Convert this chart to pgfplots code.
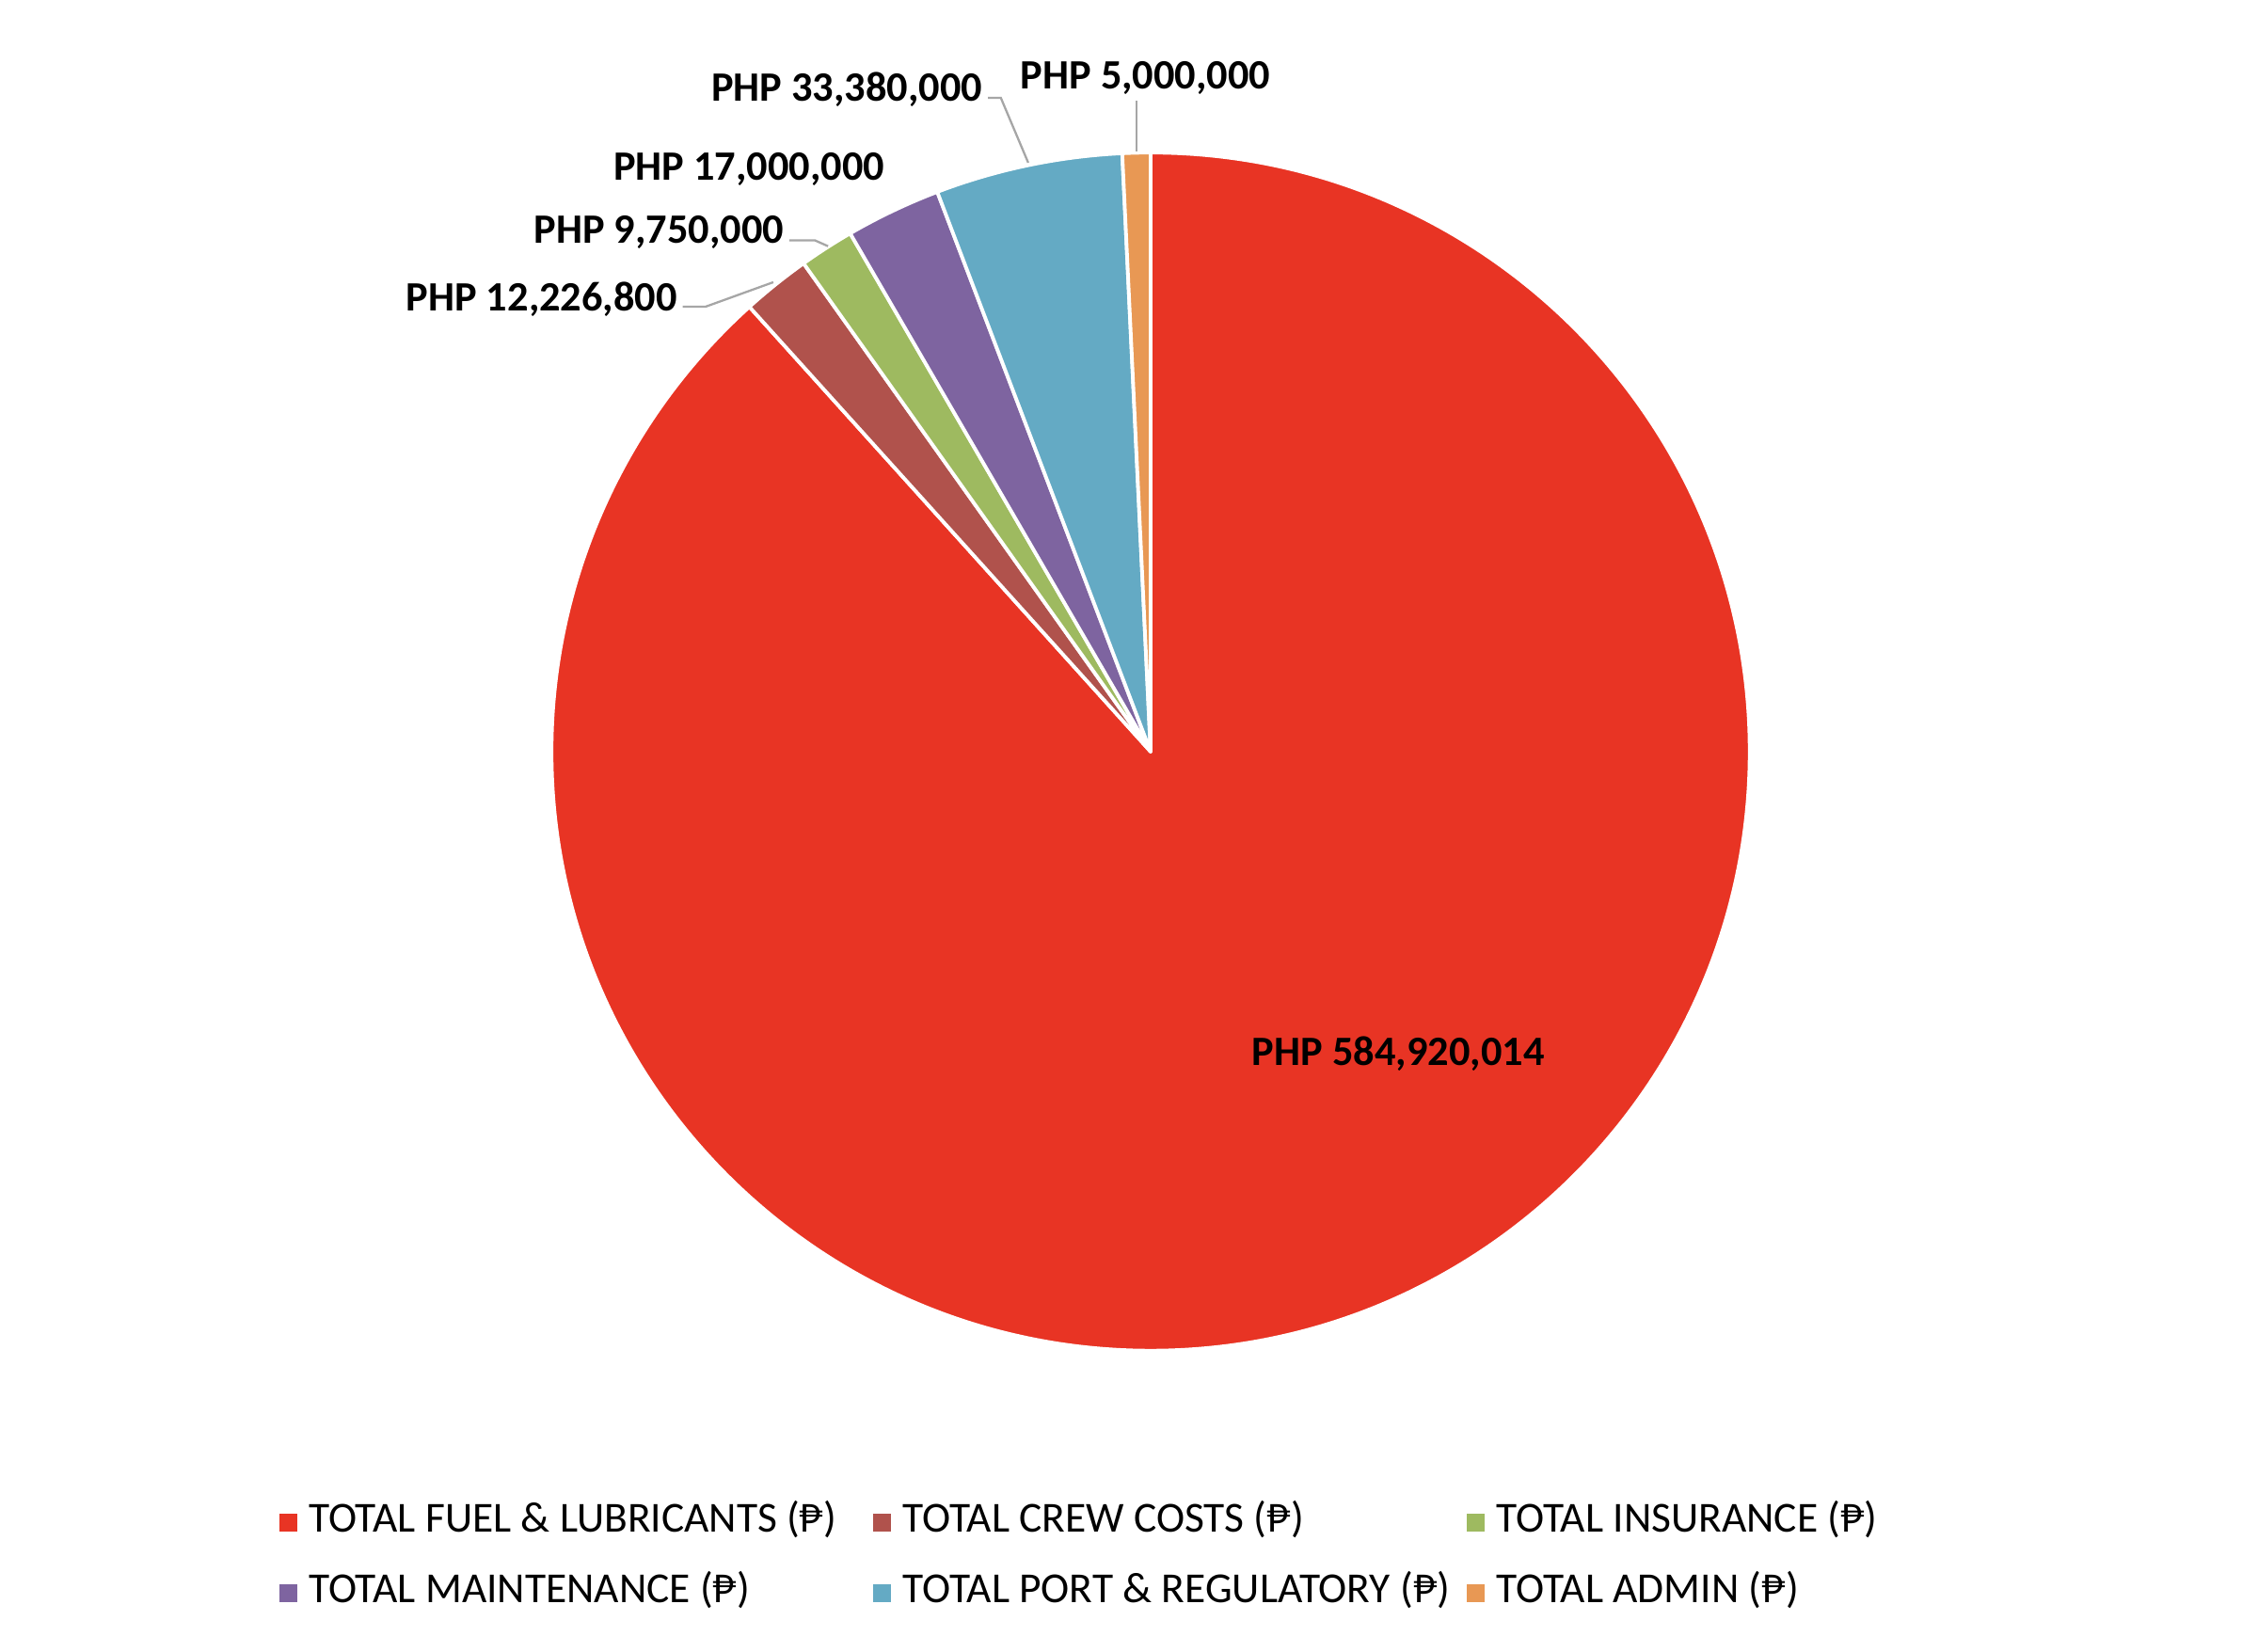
\documentclass[border=0pt]{standalone}
\usepackage{pgfplots}
\pgfplotsset{compat=1.18}
\usepackage{pgfplotstable}
\usepackage{fontspec}
\setmainfont{Carlito}
\definecolor{fuelc}{HTML}{E83424}
\definecolor{crewc}{HTML}{B0524C}
\definecolor{insc}{HTML}{9EBA60}
\definecolor{maintc}{HTML}{7E64A0}
\definecolor{portc}{HTML}{64AAC4}
\definecolor{adminc}{HTML}{E89854}
\definecolor{leadc}{HTML}{A6A6A6}
\pgfplotstableread{
id value
0 584920014
1 12226800
2 9750000
3 17000000
4 33380000
5 5000000
}\costs
\newcommand\getv[2]{\pgfplotstablegetelem{#1}{value}\of\costs\global\let#2\pgfplotsretval}
\getv{0}\vA \getv{1}\vB \getv{2}\vC \getv{3}\vD \getv{4}\vE \getv{5}\vF
\edef\T{\fpeval{\vA+\vB+\vC+\vD+\vE+\vF}}
\edef\aA{90}
\edef\aB{\fpeval{\aA-360*\vA/\T}}
\edef\aC{\fpeval{\aB-360*\vB/\T}}
\edef\aD{\fpeval{\aC-360*\vC/\T}}
\edef\aE{\fpeval{\aD-360*\vD/\T}}
\edef\aF{\fpeval{\aE-360*\vE/\T}}
\edef\aG{\fpeval{\aF-360*\vF/\T}}
\newcommand\lblfont{\fontsize{8.25pt}{10pt}\selectfont\bfseries}
\newcommand\slice[3]{\filldraw[fill=#3, draw=white, line width=0.025cm, line join=round]
  (axis cs:799,625) -- ++(#1:4.16cm) arc[start angle=#1, end angle=#2, radius=4.16cm] -- cycle;}
\begin{document}%
\begin{tikzpicture}
\begin{axis}[
  scale only axis, width=15.68cm, height=11.47cm,
  xmin=0, xmax=1568, ymin=0, ymax=1147,
  hide axis, clip=false,
  legend columns=3, legend cell align=left,
  legend image code/.code={\fill[#1] (0cm,-0.055cm) rectangle (0.11cm,0.055cm);},
  legend style={at={(axis cs:194,102)}, anchor=north west, draw=none, fill=none,
    inner sep=0pt, outer sep=0pt, row sep=0.24cm,
    font=\fontsize{8.45pt}{10pt}\selectfont,
    nodes={inner sep=0pt, text height=0.19cm, text depth=0.06cm},
    /tikz/every odd column/.append style={column sep=0.08cm}},
]
\path (axis cs:0,0) rectangle (axis cs:1568,1147);
\slice{\aA}{\aB}{fuelc}
\slice{\aB}{\aC}{crewc}
\slice{\aC}{\aD}{insc}
\slice{\aD}{\aE}{maintc}
\slice{\aE}{\aF}{portc}
\slice{\aF}{\aG}{adminc}
\addlegendimage{fuelc}\addlegendentry{\makebox[3.92cm][l]{TOTAL FUEL \& LUBRICANTS (₱)}}
\addlegendimage{crewc}\addlegendentry{\makebox[3.92cm][l]{TOTAL CREW COSTS (₱)}}
\addlegendimage{insc}\addlegendentry{\makebox[3.92cm][l]{TOTAL INSURANCE (₱)}}
\addlegendimage{maintc}\addlegendentry{\makebox[3.92cm][l]{TOTAL MAINTENANCE (₱)}}
\addlegendimage{portc}\addlegendentry{\makebox[3.92cm][l]{TOTAL PORT \& REGULATORY (₱)}}
\addlegendimage{adminc}\addlegendentry{\makebox[3.92cm][l]{TOTAL ADMIN (₱)}}
% leader lines
\draw[leadc, line width=0.015cm] (axis cs:474,934) -- (axis cs:490,934) -- (axis cs:537,951);
\draw[leadc, line width=0.015cm] (axis cs:548,980) -- (axis cs:566,980) -- (axis cs:575,976);
\draw[leadc, line width=0.015cm] (axis cs:686,1079) -- (axis cs:695,1079) -- (axis cs:714,1034);
\draw[leadc, line width=0.015cm] (axis cs:789,1077) -- (axis cs:789,1042);
% labels
\node[anchor=base, inner sep=0pt, font=\lblfont] at (axis cs:971,407) {PHP 584,920,014};
\node[anchor=base east, inner sep=0pt, font=\lblfont] at (axis cs:471,931) {PHP 12,226,800};
\node[anchor=base east, inner sep=0pt, font=\lblfont] at (axis cs:545,978) {PHP 9,750,000};
\node[anchor=base east, inner sep=0pt, font=\lblfont] at (axis cs:615,1022) {PHP 17,000,000};
\node[anchor=base east, inner sep=0pt, font=\lblfont] at (axis cs:683,1077) {PHP 33,380,000};
\node[anchor=base west, inner sep=0pt, font=\lblfont] at (axis cs:708,1085) {PHP 5,000,000};
\end{axis}
\end{tikzpicture}%
\end{document}
